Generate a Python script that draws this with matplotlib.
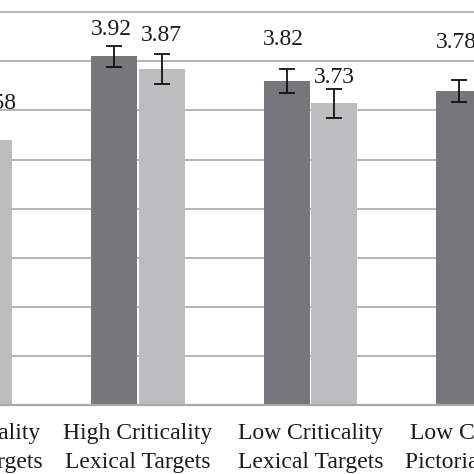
import numpy as np
import matplotlib
matplotlib.use("Agg")
import matplotlib.pyplot as plt

# ---- data ----
categories = ["High Criticality\nPictorial Targets",
              "High Criticality\nLexical Targets",
              "Low Criticality\nLexical Targets",
              "Low Criticality\nPictorial Targets"]
dark_vals = [np.nan, 3.92, 3.82, 3.78]     # first group's dark bar is outside the crop
light_vals = [3.58, 3.87, 3.73, np.nan]    # last group's light bar is outside the crop
dark_err = [np.nan, 0.044, 0.047, 0.045]
light_err = [np.nan, 0.061, 0.059, np.nan]
dark_text = ["", "3.92", "3.82", "3.78"]
light_text = ["3.58", "3.87", "3.73", ""]
# label heights (labels were placed by hand in the original)
dark_label_y = [np.nan, 4.028, 3.991, 3.975]
light_label_y = [3.730, 4.007, 3.836, np.nan]

DARK = "#77777b"
LIGHT = "#bdbdbf"
GRID = "#a8a8a8"
TXT = "#1a1a1a"

plt.rcParams["font.family"] = ["Liberation Serif", "DejaVu Serif"]

fig = plt.figure(figsize=(4.74, 4.74), dpi=100)
ax = fig.add_axes([0, 0.1458, 1, 0.8542])

x = np.arange(len(categories))
w = 0.2667
off = 0.1377

ax.bar(x - off, dark_vals, w, color=DARK, zorder=2)
ax.bar(x + off, light_vals, w, color=LIGHT, zorder=2)
ax.errorbar(x - off, dark_vals, yerr=dark_err, fmt="none", ecolor="#111111",
            elinewidth=1.3, capsize=5.5, capthick=1.3, zorder=3)
ax.errorbar(x + off, light_vals, yerr=light_err, fmt="none", ecolor="#111111",
            elinewidth=1.3, capsize=5.5, capthick=1.3, zorder=3)

for i in range(len(categories)):
    if dark_text[i]:
        ax.annotate(dark_text[i], (x[i] - off, dark_label_y[i]), xytext=(-2, 0),
                    textcoords="offset points", ha="center", va="center",
                    fontsize=17, color=TXT, zorder=4, annotation_clip=False)
    if light_text[i]:
        dx = 5 if i == 0 else 0
        ax.annotate(light_text[i], (x[i] + off, light_label_y[i]), xytext=(dx, 0),
                    textcoords="offset points", ha="center", va="center",
                    fontsize=17, color=TXT, zorder=4, annotation_clip=False)

# category names drawn by hand: the outer groups sit outside the cropped view
for i, name in enumerate(categories):
    ax.annotate(name, (x[i], 0), xycoords=("data", "axes fraction"),
                xytext=(0, -13), textcoords="offset points", ha="center", va="top",
                fontsize=17, color=TXT, linespacing=1.5, annotation_clip=False)

ax.set_yticks(np.arange(2.5, 4.11, 0.2))
ax.yaxis.grid(True, color=GRID, linewidth=1.2, zorder=0)
ax.set_axisbelow(True)
ax.tick_params(axis="y", left=False, labelleft=False)
ax.set_xticks([])
ax.set_ylim(2.5, 4.15)
ax.set_xlim(0.2014, 2.9492)
for s in ["top", "left", "right"]:
    ax.spines[s].set_visible(False)
ax.spines["bottom"].set_color(GRID)
ax.spines["bottom"].set_linewidth(1.6)

fig.savefig("out.png", dpi=100)
